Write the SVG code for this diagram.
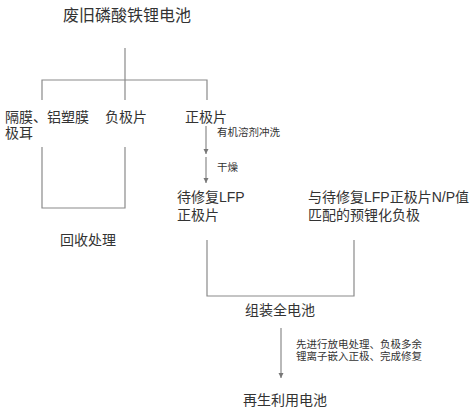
<svg xmlns="http://www.w3.org/2000/svg" width="474" height="412" viewBox="0 0 474 412">
<defs>
<style>
.t{font-family:"Liberation Sans","Noto Sans CJK SC",sans-serif;fill:#333;font-size:14px}
.s{font-size:10.5px}
.h{font-size:16px}
.ln{stroke:#8a8a8a;stroke-width:1.2;fill:none}
</style>
<marker id="ah" markerWidth="6" markerHeight="6" refX="5" refY="3" orient="auto" markerUnits="userSpaceOnUse">
<path d="M0,0.5 L5,3 L0,5.5 Z" fill="#777"/>
</marker>
</defs>
<rect width="474" height="412" fill="#fff"/>
<g id="connectors">
<path class="ln" d="M125,48 V80 M42,100 V80 H207 V100 M125,80 V100"/>
<path class="ln" d="M42,147 V208 H125 V147"/>
<path class="ln" d="M206,126 V154" marker-end="url(#ah)"/>
<path class="ln" d="M206,157 V183" marker-end="url(#ah)"/>
<path class="ln" d="M207,240 V296 H354 V240"/>
<path class="ln" d="M281,328 V378" marker-end="url(#ah)"/>
</g>
<g id="n-title"><text class="t h" x="63" y="21">废旧磷酸铁锂电池</text></g>
<g id="n-sep"><text class="t" x="5" y="122">隔膜、铝塑膜</text><text class="t" x="5" y="138">极耳</text></g>
<g id="n-neg"><text class="t" x="105" y="122">负极片</text></g>
<g id="n-pos"><text class="t" x="185" y="122">正极片</text></g>
<g id="l-wash"><text class="t s" x="217" y="136">有机溶剂冲洗</text></g>
<g id="l-dry"><text class="t s" x="217" y="171">干燥</text></g>
<g id="n-lfp"><text class="t" x="177" y="202">待修复LFP</text><text class="t" x="177" y="220">正极片</text></g>
<g id="n-anode"><text class="t" x="308" y="202">与待修复LFP正极片N/P值</text><text class="t" x="308" y="220">匹配的预锂化负极</text></g>
<g id="n-recycle"><text class="t" x="60" y="245">回收处理</text></g>
<g id="n-assemble"><text class="t" x="245" y="315">组装全电池</text></g>
<g id="l-repair"><text class="t s" x="296" y="348">先进行放电处理、负极多余</text><text class="t s" x="296" y="360">锂离子嵌入正极、完成修复</text></g>
<g id="n-reuse"><text class="t" x="243" y="405">再生利用电池</text></g>
</svg>
